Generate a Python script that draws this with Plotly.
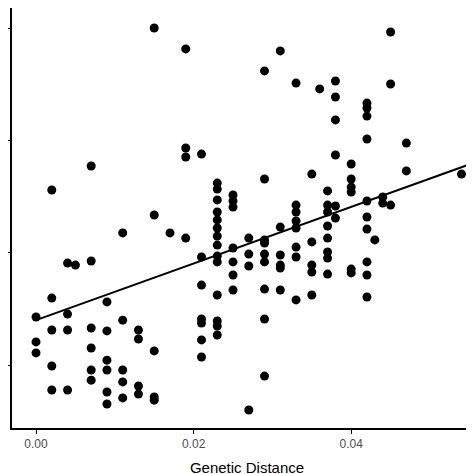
import plotly.graph_objects as go

# Values, grouped by x column.
x_vals = [0.000, 0.002, 0.004, 0.005, 0.007, 0.009, 0.011, 0.013, 0.015, 0.017,
          0.019, 0.021, 0.023, 0.025, 0.027, 0.029, 0.031, 0.033, 0.035, 0.036,
          0.037, 0.038, 0.040, 0.042, 0.043, 0.044, 0.045, 0.047, 0.054]
y_groups = [
    [0.714, 0.603, 0.554],
    [1.279, 0.798, 0.656, 0.496, 0.389],
    [0.727, 0.656, 0.389, 0.954],
    [0.945],
    [1.386, 0.963, 0.665, 0.576, 0.478, 0.433],
    [0.781, 0.652, 0.522, 0.478, 0.380, 0.327],
    [1.088, 0.700, 0.478, 0.425, 0.354],
    [0.656, 0.616, 0.407, 0.371],
    [2.000, 1.168, 0.563, 0.358, 0.344],
    [1.088],
    [1.907, 1.466, 1.426, 1.065],
    [1.439, 0.981, 0.856, 0.705, 0.687, 0.612, 0.536],
    [1.310, 1.283, 1.235, 1.181, 1.146, 1.110, 1.074, 1.034, 0.985, 0.959, 0.812, 0.696, 0.674, 0.634],
    [1.257, 1.230, 1.203, 1.021, 0.959, 0.901, 0.834],
    [1.065, 0.994, 0.941, 0.300],
    [1.809, 1.328, 1.057, 1.043, 0.994, 0.959, 0.838, 0.705, 0.451],
    [1.898, 1.114, 0.990, 0.945, 0.932, 0.834],
    [1.755, 1.212, 1.181, 1.141, 1.110, 1.025, 0.981, 0.790],
    [1.350, 1.048, 0.945, 0.914, 0.812],
    [1.729],
    [1.275, 1.212, 1.181, 1.119, 1.065, 1.003, 0.976, 0.905],
    [1.764, 1.693, 1.591, 1.435, 1.208, 1.154],
    [1.395, 1.328, 1.292, 1.270, 0.927, 0.910],
    [1.666, 1.644, 1.608, 1.506, 1.230, 1.159, 1.105, 0.959, 0.901, 0.803],
    [1.057],
    [1.248, 1.221],
    [1.212, 1.751, 1.982],
    [1.488, 1.364],
    [1.350],
]

# Regression line.
fit_intercept = 0.70
fit_slope = 12.6
x_range = [-0.00305, 0.0566]
y_range = [0.22, 2.089]

xs, ys = [], []
for xv, group in zip(x_vals, y_groups):
    for yv in group:
        xs.append(xv)
        ys.append(yv)

points = go.Scatter(x=xs, y=ys, mode="markers",
                    marker=dict(color="black", size=9), hoverinfo="skip")
fit = go.Scatter(x=[0.0, x_range[1]],
                 y=[fit_intercept, fit_intercept + fit_slope * x_range[1]],
                 mode="lines", line=dict(color="black", width=2))

fig = go.Figure(data=[points, fit])
fig.update_layout(
    width=474, height=474, showlegend=False,
    plot_bgcolor="white", paper_bgcolor="white",
    margin=dict(l=4, r=0, t=0, b=54),
    font=dict(family="Liberation Sans, Arial", size=12, color="#4d4d4d"),
)
fig.update_xaxes(range=x_range, tickvals=[0.0, 0.02, 0.04], ticktext=["0.00", "0.02", "0.04"],
                 showgrid=False, zeroline=False, showline=True, linecolor="black", linewidth=1.5,
                 ticks="outside", ticklen=4, tickcolor="black", automargin=False,
                 title=dict(text="Genetic Distance", font=dict(size=15, color="black"), standoff=12))
fig.update_yaxes(range=y_range, tickvals=[0.5, 1.0, 1.5, 2.0], ticktext=["0.5", "1.0", "1.5", "2.0"],
                 showgrid=False, zeroline=False, showline=True, linecolor="black", linewidth=1.5,
                 ticks="outside", ticklen=4, tickcolor="black", automargin=False)

fig.write_html("out.html")
